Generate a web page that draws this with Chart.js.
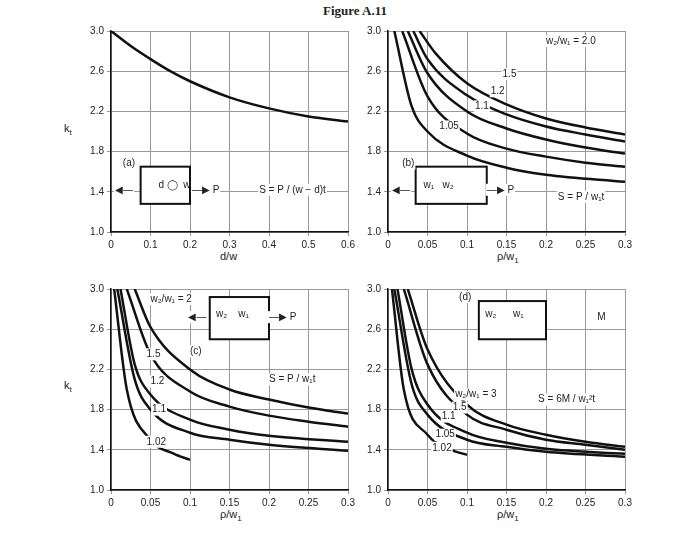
<!DOCTYPE html>
<html><head><meta charset="utf-8">
<script src="https://cdn.jsdelivr.net/npm/chart.js@4"></script>
<style>
body{margin:0;background:#fff;width:700px;height:550px;position:relative;font-family:"Liberation Sans",Arial,sans-serif}
.c{position:absolute}
.t{position:absolute;font-size:11px;color:#222}
</style></head><body>
<div class="t" style="left:0;width:710px;top:3px;text-align:center;font:bold 13px 'Liberation Serif',serif">Figure A.11</div>
<div class="t" style="left:64px;top:122px">k<sub style="font-size:8px">t</sub></div>
<div class="t" style="left:64px;top:379px">k<sub style="font-size:8px">t</sub></div>
<div class="t" style="left:220px;top:250px">d/w</div>
<div class="t" style="left:497px;top:250px">ρ/w<sub style="font-size:8px">1</sub></div>
<div class="t" style="left:220px;top:508px">ρ/w<sub style="font-size:8px">1</sub></div>
<div class="t" style="left:497px;top:508px">ρ/w<sub style="font-size:8px">1</sub></div>
<div class="c" style="left:76px;top:22px;width:282px;height:242px"><canvas id="ca"></canvas></div>
<div class="c" style="left:353px;top:22px;width:282px;height:242px"><canvas id="cb"></canvas></div>
<div class="c" style="left:76px;top:280px;width:282px;height:242px"><canvas id="cc"></canvas></div>
<div class="c" style="left:353px;top:280px;width:282px;height:242px"><canvas id="cd"></canvas></div>
<script>
// panel (a): k_t vs d/w
const aX = [0, 0.05, 0.1, 0.15, 0.2, 0.3, 0.4, 0.5, 0.6];
const aY = [3.0, 2.85, 2.72, 2.6, 2.5, 2.34, 2.23, 2.15, 2.1];
// panel (b): k_t vs rho/w1, per w2/w1
const bLabels = ['2.0', '1.5', '1.2', '1.1', '1.05'];
const bX = [
  [0.04, 0.06, 0.1, 0.15, 0.2, 0.25, 0.3],
  [0.032, 0.05, 0.1, 0.15, 0.2, 0.25, 0.3],
  [0.025, 0.05, 0.1, 0.15, 0.2, 0.25, 0.3],
  [0.018, 0.05, 0.1, 0.15, 0.2, 0.25, 0.3],
  [0.008, 0.03, 0.05, 0.1, 0.15, 0.2, 0.3]
];
const bY = [
  [3.0, 2.78, 2.48, 2.27, 2.13, 2.04, 1.97],
  [3.0, 2.72, 2.36, 2.17, 2.05, 1.97, 1.9],
  [3.0, 2.58, 2.2, 2.03, 1.92, 1.84, 1.78],
  [3.0, 2.35, 1.98, 1.83, 1.75, 1.69, 1.65],
  [3.0, 2.25, 2.0, 1.76, 1.64, 1.57, 1.5]
];
// panel (c)
const cLabels = ['2', '1.5', '1.2', '1.1', '1.02'];
const cX = [
  [0.03, 0.05, 0.1, 0.15, 0.2, 0.25, 0.3],
  [0.02, 0.05, 0.1, 0.15, 0.2, 0.25, 0.3],
  [0.012, 0.03, 0.05, 0.1, 0.15, 0.2, 0.3],
  [0.008, 0.03, 0.05, 0.1, 0.15, 0.2, 0.3],
  [0.004, 0.02, 0.05, 0.08, 0.1]
];
const cY = [
  [3.0, 2.62, 2.2, 2.0, 1.9, 1.82, 1.76],
  [3.0, 2.35, 1.98, 1.83, 1.74, 1.68, 1.63],
  [3.0, 2.25, 1.95, 1.7, 1.6, 1.54, 1.48],
  [3.0, 2.1, 1.8, 1.57, 1.5, 1.45, 1.39],
  [3.0, 2.0, 1.5, 1.36, 1.3]
];
// panel (d)
const dLabels = ['3', '1.5', '1.1', '1.05', '1.02'];
const dX = [
  [0.025, 0.05, 0.1, 0.15, 0.2, 0.25, 0.3],
  [0.02, 0.05, 0.1, 0.15, 0.2, 0.25, 0.3],
  [0.012, 0.03, 0.05, 0.1, 0.15, 0.2, 0.3],
  [0.008, 0.03, 0.05, 0.1, 0.15, 0.2, 0.3],
  [0.005, 0.02, 0.05, 0.08, 0.1]
];
const dY = [
  [3.0, 2.4, 1.85, 1.65, 1.55, 1.48, 1.43],
  [3.0, 2.25, 1.75, 1.6, 1.5, 1.45, 1.4],
  [3.0, 2.2, 1.85, 1.57, 1.47, 1.41, 1.36],
  [3.0, 2.05, 1.75, 1.5, 1.43, 1.38, 1.33],
  [3.0, 2.0, 1.55, 1.4, 1.35]
];
const yTicks = [1.0, 1.4, 1.8, 2.2, 2.6, 3.0];

const notes = {
  id: 'notes',
  afterDatasetsDraw(chart, args, opts) {
    const {ctx, scales: {x, y}} = chart;
    ctx.save();
    (opts.boxes || []).forEach(b => {
      const x1 = x.getPixelForValue(b[0]), y1 = y.getPixelForValue(b[1]);
      const x2 = x.getPixelForValue(b[2]), y2 = y.getPixelForValue(b[3]);
      ctx.fillStyle = '#fff';
      ctx.fillRect(x1, y1, x2 - x1, y2 - y1);
      ctx.strokeStyle = '#111';
      ctx.lineWidth = 2;
      ctx.strokeRect(x1, y1, x2 - x1, y2 - y1);
    });
    ctx.font = '10px "Liberation Sans", Arial';
    (opts.items || []).forEach(n => {
      const px = x.getPixelForValue(n.x), py = y.getPixelForValue(n.y);
      ctx.textAlign = 'left';
      ctx.textBaseline = 'middle';
      const tw = ctx.measureText(n.t).width;
      if (!n.clear) { ctx.fillStyle = '#fff'; ctx.fillRect(px - 1, py - 6, tw + 2, 12); }
      ctx.fillStyle = '#222';
      ctx.fillText(n.t, px, py);
    });
    ctx.restore();
  }
};

function makeChart(id, xs, ys, xmax, xstep, items, boxes) {
  const datasets = xs.map((xv, i) => ({
    data: xv.map((v, j) => ({x: v, y: ys[i][j]})),
    borderColor: '#111', borderWidth: 2.5, pointRadius: 0,
    cubicInterpolationMode: 'monotone', fill: false
  }));
  const fmt = v => v === 0 ? '0' : String(+v.toFixed(2));
  new Chart(document.getElementById(id), {
    type: 'scatter',
    data: {datasets},
    plugins: [notes],
    options: {
      animation: false, responsive: true, maintainAspectRatio: false,
      showLine: true,
      layout: {padding: {left: 5, right: 10, top: 8}},
      plugins: {legend: {display: false}, tooltip: {enabled: false}, notes: {items, boxes}},
      scales: {
        x: {type: 'linear', min: 0, max: xmax,
          afterFit: s => { s.height = 32; },
          afterBuildTicks: s => { s.ticks = []; for (let v = 0; v <= xmax + 1e-9; v += xstep) s.ticks.push({value: +v.toFixed(3)}); },
          ticks: {callback: fmt, color: '#222', font: {size: 10, family: 'Liberation Sans'}, maxRotation: 0},
          grid: {color: '#999', lineWidth: 1, tickLength: 4},
          border: {color: '#111', width: 1.5}},
        y: {min: 1.0, max: 3.0,
          afterFit: s => { s.width = 30; },
          afterBuildTicks: s => { s.ticks = yTicks.map(v => ({value: v})); },
          ticks: {callback: v => v.toFixed(1), color: '#222', font: {size: 10, family: 'Liberation Sans'}},
          grid: {color: '#999', lineWidth: 1, tickLength: 4},
          border: {color: '#111', width: 1.5}}
      }
    }
  });
}

makeChart('ca', [aX], [aY], 0.6, 0.1,
  [{x: 0.03, y: 1.68, t: '(a)'}, {x: 0.375, y: 1.42, t: 'S = P / (w − d)t'},
   {x: 0.01, y: 1.42, t: '◀—'}, {x: 0.205, y: 1.42, t: '—▶ P'}, {x: 0.12, y: 1.47, t: 'd ◯  w', clear: true}],
  [[0.075, 1.65, 0.2, 1.28]]);
makeChart('cb', bX, bY, 0.3, 0.05,
  [{x: 0.2, y: 2.9, t: 'w₂/w₁ = 2.0'}, {x: 0.145, y: 2.57, t: '1.5'}, {x: 0.13, y: 2.4, t: '1.2'},
   {x: 0.11, y: 2.25, t: '1.1'}, {x: 0.065, y: 2.05, t: '1.05'}, {x: 0.018, y: 1.68, t: '(b)'},
   {x: 0.215, y: 1.35, t: 'S = P / w₁t'}, {x: 0.005, y: 1.42, t: '◀—'}, {x: 0.125, y: 1.42, t: '—▶ P'},
   {x: 0.045, y: 1.47, t: 'w₁   w₂', clear: true}],
  [[0.035, 1.65, 0.125, 1.28]]);
makeChart('cc', cX, cY, 0.3, 0.05,
  [{x: 0.05, y: 2.9, t: 'w₂/w₁ = 2'}, {x: 0.045, y: 2.35, t: '1.5'}, {x: 0.05, y: 2.08, t: '1.2'},
   {x: 0.052, y: 1.8, t: '1.1'}, {x: 0.045, y: 1.48, t: '1.02'}, {x: 0.1, y: 2.38, t: '(c)'},
   {x: 0.2, y: 2.1, t: 'S = P / w₁t'}, {x: 0.098, y: 2.72, t: '◀—'}, {x: 0.2, y: 2.72, t: '—▶ P'},
   {x: 0.133, y: 2.75, t: 'w₂    w₁', clear: true}],
  [[0.125, 2.92, 0.2, 2.5]]);
makeChart('cd', dX, dY, 0.3, 0.05,
  [{x: 0.085, y: 1.95, t: 'w₂/w₁ = 3'}, {x: 0.082, y: 1.82, t: '1.5'}, {x: 0.068, y: 1.73, t: '1.1'},
   {x: 0.06, y: 1.55, t: '1.05'}, {x: 0.056, y: 1.42, t: '1.02'}, {x: 0.09, y: 2.92, t: '(d)'},
   {x: 0.19, y: 1.9, t: 'S = 6M / w₁²t'}, {x: 0.123, y: 2.75, t: 'w₂      w₁', clear: true}, {x: 0.265, y: 2.72, t: 'M'}],
  [[0.115, 2.88, 0.2, 2.5]]);
</script>
</body></html>
